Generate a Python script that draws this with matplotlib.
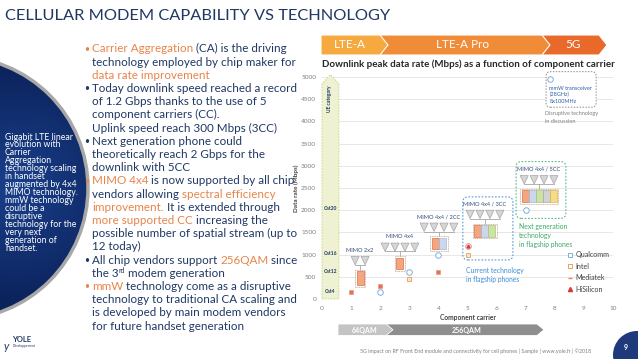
import matplotlib
matplotlib.use('Agg')
import matplotlib.pyplot as plt
from matplotlib.patches import Polygon, Rectangle, FancyBboxPatch, Circle
from matplotlib.lines import Line2D
import numpy as np

FONT = 'Lato'
plt.rcParams['font.family'] = [FONT, 'DejaVu Sans']

NAVY = '#1F3864'
ORANGE = '#E8844A'

# ---------------- data ----------------
cc_qualcomm = [2, 3, 4, 7, 7.85]
rate_qualcomm = [150, 600, 1000, 2000, 4950]
cc_intel = [3, 5]
rate_intel = [450, 1000]
cc_mediatek = [1, 2, 4]
rate_mediatek = [150, 300, 600]
cc_hisilicon = [5]
rate_hisilicon = [1200]
vendors = ['Qualcomm', 'Intel', 'Mediatek', 'HiSilicon']

ue_categories = ['Cat4', 'Cat12', 'Cat16', 'Cat20']
ue_rates = [150, 600, 1000, 2000]

x_ticks = list(range(0, 11))
y_ticks = list(range(0, 5001, 500))

tech_bands = ['LTE-A', 'LTE-A Pro', '5G']
qam_bands = ['64QAM', '256QAM']

mimo_labels = ['MIMO 2x2', 'MIMO 4x4', 'MIMO 4x4 / 2CC', 'MIMO 4x4 / 3CC', 'MIMO 4x4 / 5CC']
mimo_antennas = [2, 4, 4, 4, 4]
mimo_cells = [1, 1, 2, 3, 5]

# ---------------- figure ----------------
fig = plt.figure(figsize=(6.38, 3.59), dpi=100)
renderer = fig.canvas.get_renderer()


def twidth(s, size, weight='normal'):
    t = fig.text(0, 0, s, fontsize=size, fontweight=weight)
    w = t.get_window_extent(renderer).width
    t.remove()
    return w


def fit(s, target, weight='normal'):
    return 10.0 * target / twidth(s, 10.0, weight)


def adv(s, size, weight='normal'):
    return twidth(s + 'l', size, weight) - twidth('l', size, weight)


ax_bg = fig.add_axes([0, 0, 1, 1])
ax_bg.set_xlim(0, 638)
ax_bg.set_ylim(359, 0)
ax_bg.axis('off')
ax_bg.set_zorder(0)

# title
ax_bg.text(5, 16, 'CELLULAR MODEM CAPABILITY VS TECHNOLOGY', ha='left', va='center',
           fontsize=fit('CELLULAR MODEM CAPABILITY VS TECHNOLOGY', 380), color=NAVY)

# left circle with radial gradient
cx_c, cy_c, r_c = -43.5, 188, 131.5
gx = np.linspace(0, 100, 200)
gy = np.linspace(40, 335, 400)
GX, GY = np.meshgrid(gx, gy)
d = np.sqrt((GX - 15) ** 2 + (GY - 185) ** 2) / 135.0
d = np.clip(d, 0, 1)
c0 = np.array([0x1A, 0x40, 0x8C]) / 255.0
c1 = np.array([0x0A, 0x1F, 0x55]) / 255.0
img = c0[None, None, :] * (1 - d[..., None]) + c1[None, None, :] * d[..., None]
im = ax_bg.imshow(img, extent=(0, 100, 335, 40), origin='upper', zorder=1, aspect='auto')
clip_circle = Circle((cx_c, cy_c), r_c, transform=ax_bg.transData)
im.set_clip_path(clip_circle)
ax_bg.add_patch(Circle((cx_c, cy_c), r_c, fc='none', ec='#A8A8A8', lw=2.5, zorder=2))
ax_bg.set_xlim(0, 638)
ax_bg.set_ylim(359, 0)

circle_lines = ['Gigabit LTE linear', 'evolution with', 'Carrier', 'Aggregation',
                'technology scaling', 'in handset', 'augmented by 4x4', 'MIMO technology.',
                'mmW technology', 'could be a', 'disruptive', 'technology for the',
                'very next', 'generation of', 'handset.']
cfs = fit('technology scaling', 71)
for i, ln in enumerate(circle_lines):
    ax_bg.text(5, 137 + 7.95 * i, ln, ha='left', va='center', fontsize=cfs, color='white', zorder=3)

# bullet text
bullet_lines = [
    (True, [('Carrier Aggregation', 'o'), (' (CA) is the driving', 'n')]),
    (False, [('technology employed by chip maker for', 'n')]),
    (False, [('data rate improvement', 'o')]),
    (True, [('Today downlink speed reached a record', 'n')]),
    (False, [('of 1.2 Gbps thanks to the use of 5', 'n')]),
    (False, [('component carriers (CC).', 'n')]),
    (False, [('Uplink speed reach 300 Mbps (3CC)', 'n')]),
    (True, [('Next generation phone could', 'n')]),
    (False, [('theoretically reach 2 Gbps for the', 'n')]),
    (False, [('downlink with 5CC', 'n')]),
    (True, [('MIMO 4x4', 'o'), (' is now supported by all chip', 'n')]),
    (False, [('vendors allowing ', 'n'), ('spectral efficiency', 'o')]),
    (False, [('improvement.', 'o'), (' It is extended through', 'n')]),
    (False, [('more supported CC', 'o'), (' increasing the', 'n')]),
    (False, [('possible number of spatial stream (up to', 'n')]),
    (False, [('12 today)', 'n')]),
    (True, [('All chip vendors support ', 'n'), ('256QAM', 'o'), (' since', 'n')]),
    (False, [('the 3', 'n'), ('rd', 'sup'), (' modem generation', 'n')]),
    (True, [('mmW', 'o'), (' technology come as a disruptive', 'n')]),
    (False, [('technology to traditional CA scaling and', 'n')]),
    (False, [('is developed by main modem vendors', 'n')]),
    (False, [('for future handset generation', 'n')]),
]
bfs = fit('technology employed by chip maker for', 202)
for i, (is_bullet, segs) in enumerate(bullet_lines):
    yb = 49 + 13.2 * i + 3.4
    x = 92.0
    if is_bullet:
        bc = ORANGE if segs[0][1] == 'o' else NAVY
        ax_bg.text(84.5, yb - 0.5, '•', ha='left', va='baseline', fontsize=bfs * 0.75, color=bc)
    for s, k in segs:
        if k == 'sup':
            fs = bfs * 0.6
            ax_bg.text(x, yb - 4, s, ha='left', va='baseline', fontsize=fs, color=NAVY)
            x += adv(s, fs)
        else:
            col = ORANGE if k == 'o' else NAVY
            ax_bg.text(x, yb, s, ha='left', va='baseline', fontsize=bfs, color=col)
            x += adv(s, bfs)

# top technology banner
band_cols = ['#F5A93F', '#F08C38', '#E9692B']
band_x = [(321, 388), (377, 550), (538, 607)]
y0, y1, ym, dep = 35, 55, 45, 8
for i in [2, 1, 0]:
    xl, xt = band_x[i]
    if i == 0:
        pts = [(xl, y0), (xt - dep, y0), (xt, ym), (xt - dep, y1), (xl, y1)]
    else:
        pts = [(xl, y0), (xt - dep, y0), (xt, ym), (xt - dep, y1), (xl, y1), (xl + dep, ym)]
    ax_bg.add_patch(Polygon(pts, closed=True, fc=band_cols[i], ec='white', lw=0.8, zorder=2))
tfs = fit('LTE-A Pro', 53)
for name, xc in zip(tech_bands, [350, 463, 573]):
    ax_bg.text(xc, ym, name, ha='center', va='center', fontsize=tfs, color='white', zorder=3)

# chart title
ctitle = 'Downlink peak data rate (Mbps) as a function of component carrier'
ax_bg.text(322, 64.5, ctitle, ha='left', va='center', fontsize=fit(ctitle, 291, 'bold'),
           fontweight='bold', color='#262626')

# bottom QAM banner
qy0, qy1, qym = 324, 335.5, 329.75
q_cols = ['#C4C4C4', '#8E8E8E']
q_x = [(338, 393), (384, 544)]
for i in [1, 0]:
    xl, xt = q_x[i]
    if i == 0:
        pts = [(xl, qy0), (xt - 7, qy0), (xt, qym), (xt - 7, qy1), (xl, qy1)]
    else:
        pts = [(xl, qy0), (xt - 7, qy0), (xt, qym), (xt - 7, qy1), (xl, qy1), (xl + 7, qym)]
    ax_bg.add_patch(Polygon(pts, closed=True, fc=q_cols[i], ec='white', lw=0.6, zorder=2))
qfs = fit('256QAM', 30, 'bold')
for name, xc in zip(qam_bands, [365, 467]):
    ax_bg.text(xc, qym + 0.3, name, ha='center', va='center', fontsize=qfs, fontweight='bold',
               color='white', zorder=3)

# footer
footer = '5G impact on RF Front End module and connectivity for cell phones | Sample | www.yole.fr | \u00a92018'
ax_bg.text(360, 351.5, footer, ha='left', va='center', fontsize=fit(footer, 230), color='#7F7F7F')
ax_bg.add_patch(Circle((637, 355), 24, fc='#1F3A7A', ec='none', zorder=2))
ax_bg.text(626, 348, '9', ha='center', va='center', fontsize=5, fontweight='bold', color='white', zorder=3)

# logo
ax_bg.text(4, 346, 'y', ha='left', va='center', fontsize=8, color=NAVY, style='italic')
ax_bg.text(12.5, 339.5, 'YOLE', ha='left', va='center', fontsize=5.5, fontweight='bold', color=NAVY)
ax_bg.text(13, 346, 'Développement', ha='left', va='center', fontsize=2.3, color=NAVY)

# ---------------- chart ----------------
ax = fig.add_axes([322 / 638, 1 - 299 / 359, 291 / 638, 222 / 359])
ax.set_zorder(2)
ax.patch.set_alpha(0)
ax.set_xlim(0, 10)
ax.set_ylim(0, 5000)
for s in ax.spines.values():
    s.set_visible(False)
ax.set_xticks(x_ticks)
ax.set_yticks(y_ticks)
ax.tick_params(length=0, labelsize=4.6, labelcolor='#7F7F7F')
ax.tick_params(axis='x', pad=5)
ax.tick_params(axis='y', pad=4.2)
ax.grid(axis='y', color='#E3E3E3', lw=0.6, zorder=0)
ax.set_axisbelow(True)
ax.set_xlabel('Component carrier', fontsize=4.8, fontweight='bold', color='#404040', labelpad=2.5)
ax.set_ylabel('Data rate (Mbps)', fontsize=4.6, fontweight='bold', color='#404040', labelpad=1.5)

# UE category band
ax.add_patch(Polygon([(0.0, 0), (0.58, 0), (0.58, 4850), (0.29, 5050), (0.0, 4850)], closed=True,
                     fc='#EEF2D2', ec='#C9D67F', lw=0.6, ls=(0, (2, 1.5)), clip_on=False, zorder=1))
for cat, r in zip(ue_categories, ue_rates):
    ax.text(0.29, r + 30, cat, ha='center', va='center', fontsize=3.6, fontweight='bold', color=NAVY, zorder=2)
ax.text(0.27, 4520, 'UE category', rotation=90, ha='center', va='center', fontsize=3.5,
        fontweight='bold', color=NAVY, zorder=2)

MA = (5000 / 222) / (10 / 291)  # data-y per data-x for equal pixel rounding

# technology boxes
ax.add_patch(FancyBboxPatch((4.84, 880), 1.72, 1420, boxstyle='round,pad=0,rounding_size=0.18',
                            mutation_aspect=MA, fc='none', ec='#5B9BD5', lw=0.8, ls=(0, (1.5, 1.5)), zorder=1))
ax.add_patch(FancyBboxPatch((6.67, 1815), 1.71, 1280, boxstyle='round,pad=0,rounding_size=0.18',
                            mutation_aspect=MA, fc='none', ec='#5CB88A', lw=0.8, ls=(0, (1.5, 1.5)), zorder=1))
ax.add_patch(FancyBboxPatch((7.7, 4320), 1.72, 800, boxstyle='round,pad=0,rounding_size=0.15',
                            mutation_aspect=MA, fc='white', ec='#8C8C8C', lw=0.7, ls=(0, (1.5, 1.5)),
                            clip_on=False, zorder=1))

mfs = fit('mmW transceiver', 43)
for j, ln in enumerate(['mmW transceiver', '(28GHz)', '8x100MHz']):
    ax.text(7.81, 4745 - 145 * j, ln, ha='left', va='center', fontsize=mfs, color='#2E5FA8', zorder=3)
dfs = fit('Disruptive technology', 53)
ax.text(7.66, 4170, 'Disruptive technology', ha='left', va='center', fontsize=dfs, color='#7F7F7F')
ax.text(7.66, 3990, 'in discussion', ha='left', va='center', fontsize=dfs, color='#7F7F7F')

nfs = fit('Next generation', 48.5)
for j, ln in enumerate(['Next generation', 'technology', 'in flagship phones']):
    ax.text(6.77, 1630 - 198 * j, ln, ha='left', va='center', fontsize=nfs, color='#3DAA6A')
cfs2 = fit('Current technology', 58)
for j, ln in enumerate(['Current technology', 'in flagship phones']):
    ax.text(4.95, 640 - 205 * j, ln, ha='left', va='center', fontsize=cfs2, color='#3D8FD8')

# MIMO groups
group_cx = [1.31, 2.68, 4.02, 5.60, 7.46]
group_ly = [1100, 1400, 1850, 2140, 2920]
cell_cols = ['#F4A582', '#C9D8EE', '#CDE3A3', '#D3D3D3', '#F6DC86']
cell_edges = ['#E0703F', '#A9B7CC', '#A9C27E', '#A8A8A8', '#D8B850']
lfs = fit('MIMO 4x4 / 3CC', 43)
for lab, nant, ncell, gcx, gly in zip(mimo_labels, mimo_antennas, mimo_cells, group_cx, group_ly):
    ax.text(gcx, gly, lab, ha='center', va='center', fontsize=lfs, color='#2F4A7F', zorder=3)
    tri_top = gly - 140
    tip = tri_top - 190
    xs = gcx + (np.arange(nant) - (nant - 1) / 2) * 0.34
    for xa in xs:
        ax.add_patch(Polygon([(xa - 0.14, tri_top), (xa + 0.14, tri_top), (xa, tip)], closed=True,
                             fc='#D6D6D6', ec='#A6A6A6', lw=0.5, zorder=3))
    btop = tip - 110
    ax.plot([xs[0], xs[-1]], [tip, tip], color='#A6A6A6', lw=0.6, zorder=3)
    ax.plot([gcx, gcx], [tip, btop], color='#A6A6A6', lw=0.6, zorder=3)
    bh = 380 if nant == 2 else 330
    cw = 0.24
    bw = ncell * cw
    ax.add_patch(Rectangle((gcx - bw / 2 - 0.06, btop - bh), bw + 0.12, bh, fc='white', ec='#B89A80',
                           lw=0.5, ls=(0, (1.5, 1)), zorder=3))
    for k in range(ncell):
        ax.add_patch(Rectangle((gcx - bw / 2 + k * cw, btop - bh + 35), cw, bh - 70,
                               fc=cell_cols[k], ec=cell_edges[k], lw=0.5, zorder=4))

# vendor data points
ax.plot(cc_qualcomm, rate_qualcomm, ls='none', marker='o', ms=4, mfc='white', mec='#7FAEDC', mew=0.7,
        clip_on=False, zorder=5)
ax.plot(cc_intel, rate_intel, ls='none', marker='s', ms=3, mfc='#FBE3C6', mec='#E3A15C', mew=0.6,
        clip_on=False, zorder=5)
ax.plot(cc_mediatek, rate_mediatek, ls='none', marker='s', ms=3.2, mfc='#E8704A', mec='#E39A8A', mew=0.5,
        clip_on=False, zorder=5)
ax.plot(cc_hisilicon, rate_hisilicon, ls='none', marker='o', ms=4.2, mfc='#F5D5D5', mec='#D98C8C', mew=0.5,
        clip_on=False, zorder=5)
ax.plot(cc_hisilicon, rate_hisilicon, ls='none', marker='^', ms=2, color='#D83A3A', clip_on=False, zorder=6)

handles = [
    Line2D([], [], ls='none', marker='s', ms=3.2, mfc='white', mec='#7FAEDC', mew=0.7),
    Line2D([], [], ls='none', marker='s', ms=3.2, mfc='white', mec='#E3A15C', mew=0.7),
    Line2D([], [], ls='none', marker='_', ms=3, mec='#E8844A', mew=1.0),
    Line2D([], [], ls='none', marker='^', ms=3, mfc='#D83A3A', mec='#D83A3A'),
]
lgfs = fit('Qualcomm', 34)
leg = ax.legend(handles, vendors, loc='upper left', bbox_to_anchor=(0.845, 0.215), frameon=False,
                fontsize=lgfs, handlelength=0.7, handletextpad=0.35, labelspacing=0.62, borderpad=0,
                borderaxespad=0)
for t in leg.get_texts():
    t.set_color('#404040')

fig.savefig('out.png', dpi=100)
